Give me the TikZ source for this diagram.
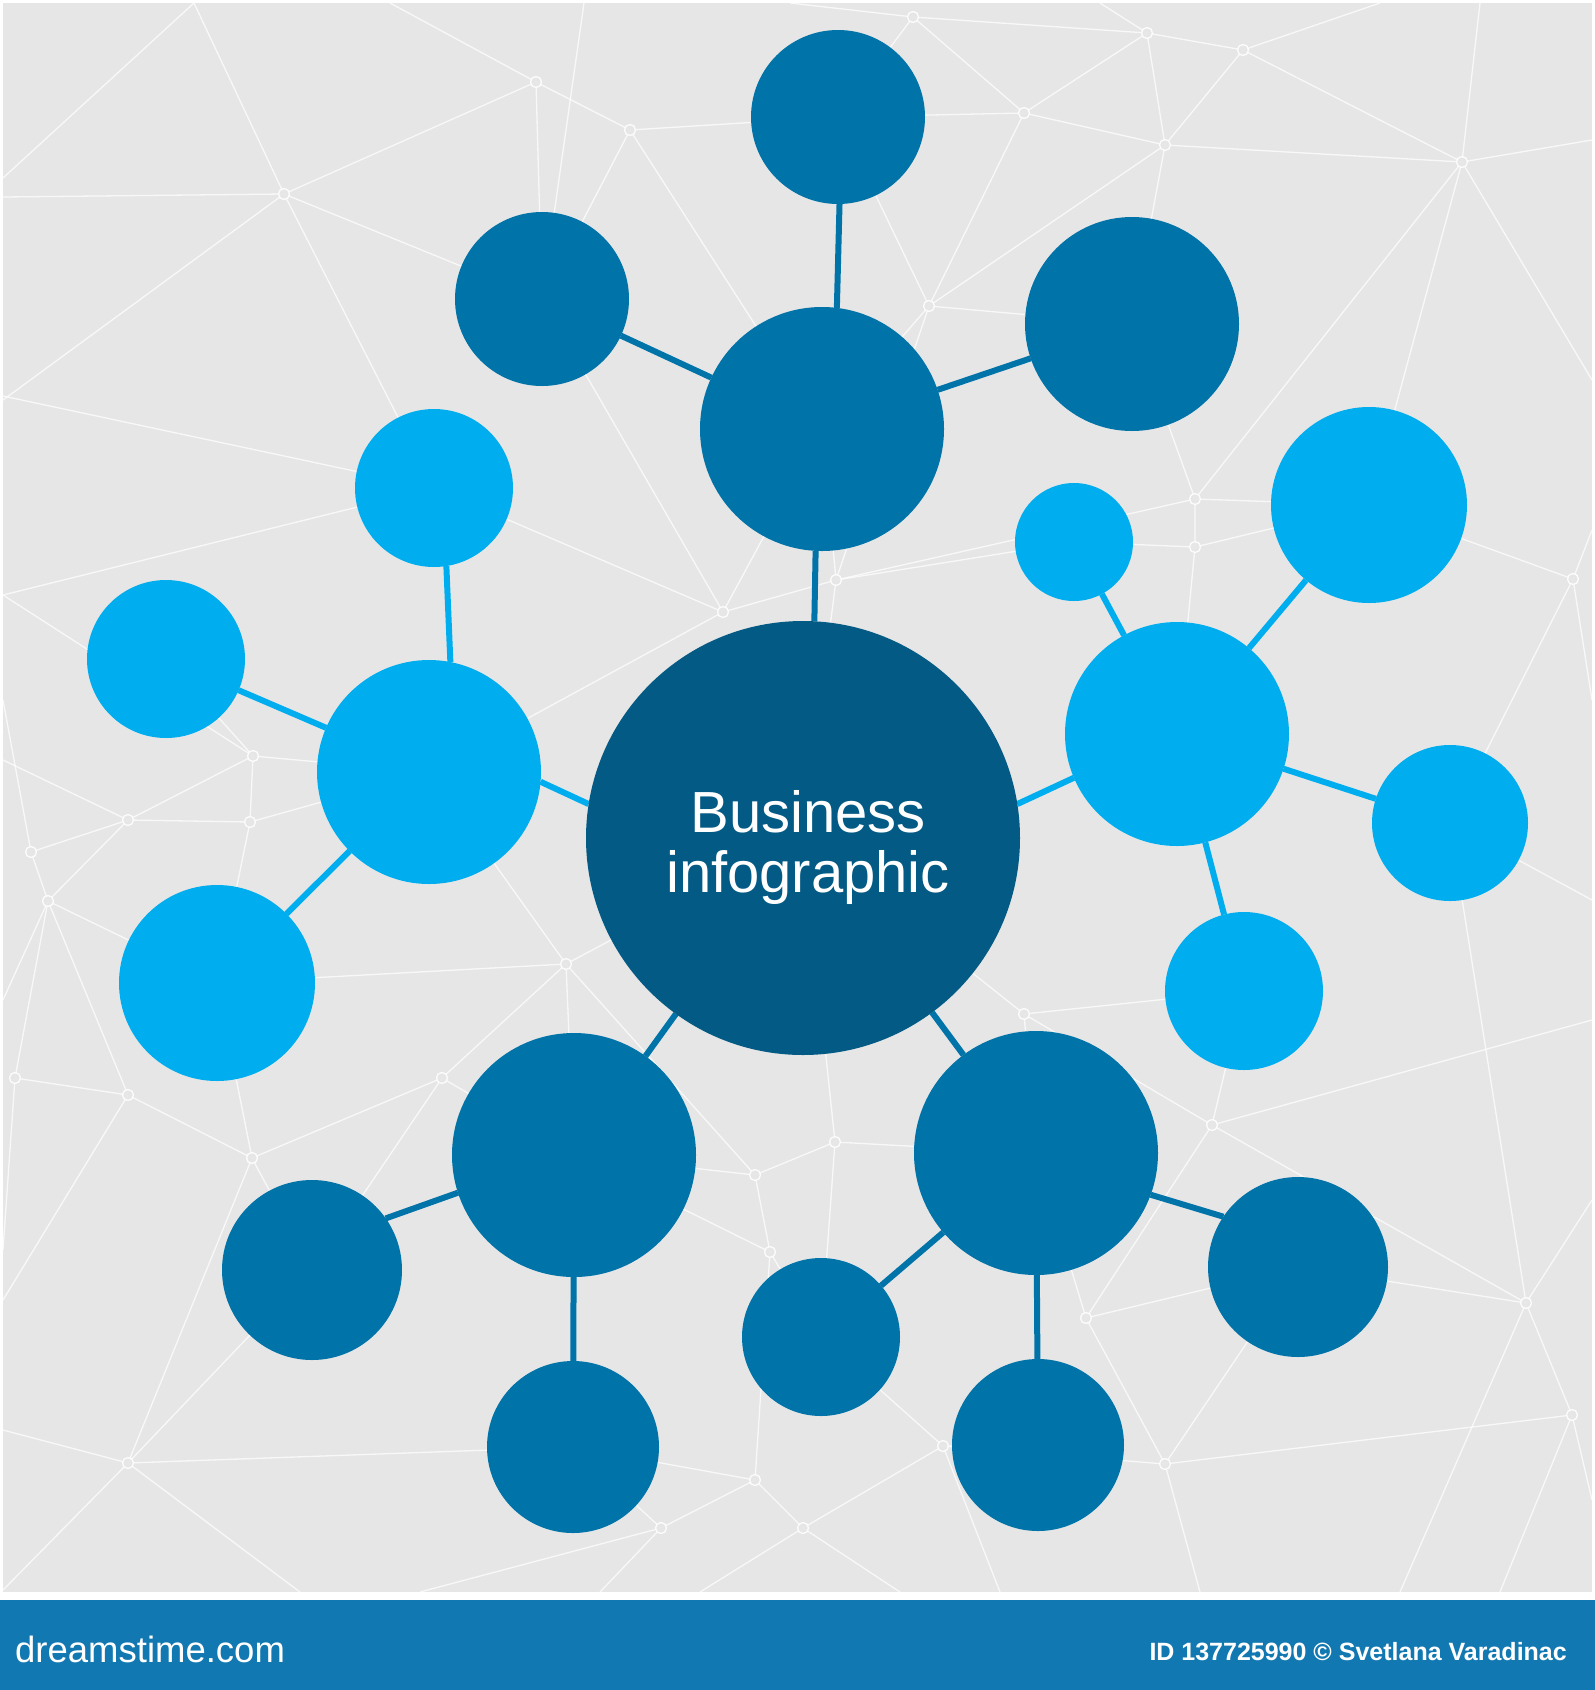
\documentclass[tikz,border=0pt]{standalone}
\usepackage{fontspec}
\setmainfont{Liberation Sans}
\definecolor{bggrey}{HTML}{E6E6E6}
\definecolor{navy}{HTML}{035A84}
\definecolor{darkb}{HTML}{0073A8}
\definecolor{lightb}{HTML}{00AEEF}
\definecolor{bannerc}{HTML}{1278B1}
\pgfdeclarelayer{meshlayer}
\pgfdeclarelayer{linklayer}
\pgfsetlayers{meshlayer,linklayer,main}
\begin{document}
\begin{tikzpicture}[x=1pt,y=-1pt,
  bub/.style={circle,inner sep=0pt,outer sep=0pt,draw=none},
  navybub/.style={bub,fill=navy},
  darkbub/.style={bub,fill=darkb},
  lightbub/.style={bub,fill=lightb},
  darklink/.style={draw=darkb,line width=6pt},
  lightlink/.style={draw=lightb,line width=6pt},
  mesh/.style={draw=white,line width=1.3pt,opacity=0.75},
  meshdot/.style={circle,draw=white,line width=1.3pt,fill=bggrey,inner sep=0pt,minimum size=11pt,opacity=0.9},
  title/.style={text=white,font=\fontsize{58}{60}\selectfont,anchor=base,inner sep=0pt}]
\useasboundingbox (0,0) rectangle (1595,1690);
\begin{pgfonlayer}{meshlayer}
\fill[white] (0,0) rectangle (1595,1690);
\fill[bggrey] (3,3) rectangle (1592,1592);
\fill[bannerc] (0,1600) rectangle (1595,1690);
\end{pgfonlayer}

% bubbles
\node[navybub,minimum size=434pt] (C) at (803,838) {};
\node[darkbub,minimum size=244pt] (T) at (822,429) {};
\node[darkbub,minimum size=174pt] (TT) at (838,117) {};
\node[darkbub,minimum size=174pt] (TL) at (542,299) {};
\node[darkbub,minimum size=214pt] (TR) at (1132,324) {};
\node[lightbub,minimum size=224pt] (R) at (1177,734) {};
\node[lightbub,minimum size=118pt] (RS) at (1074,542) {};
\node[lightbub,minimum size=196pt] (RTR) at (1369,505) {};
\node[lightbub,minimum size=156pt] (RR) at (1450,823) {};
\node[lightbub,minimum size=158pt] (RB) at (1244,991) {};
\node[lightbub,minimum size=224pt] (L) at (429,772) {};
\node[lightbub,minimum size=158pt] (LT) at (434,488) {};
\node[lightbub,minimum size=158pt] (LL) at (166,659) {};
\node[lightbub,minimum size=196pt] (LB) at (217,983) {};
\node[darkbub,minimum size=244pt] (BL) at (574,1155) {};
\node[darkbub,minimum size=180pt] (BLL) at (312,1270) {};
\node[darkbub,minimum size=172pt] (BLB) at (573,1447) {};
\node[darkbub,minimum size=244pt] (BR) at (1036,1153) {};
\node[darkbub,minimum size=158pt] (BRL) at (821,1337) {};
\node[darkbub,minimum size=172pt] (BRB) at (1038,1445) {};
\node[darkbub,minimum size=180pt] (BRR) at (1298,1267) {};

% title
\node[title] (t1) at (808,832) {Business};
\node[title] (t2) at (808,892) {infographic};

% connectors
\begin{pgfonlayer}{linklayer}
\draw[darklink] (C.87) -- (T.267);
\draw[darklink] (T.83) -- (TT.271);
\draw[darklink] (T) -- (TL);
\draw[darklink] (T) -- (TR);
\draw[lightlink] (C.171) -- (L.355);
\draw[lightlink] (L.79) -- (LT.279);
\draw[lightlink] (L) -- (LL);
\draw[lightlink] (L) -- (LB);
\draw[lightlink] (C.9) -- (R.203);
\draw[lightlink] (R) -- (RS);
\draw[lightlink] (R) -- (RTR);
\draw[lightlink] (R) -- (RR);
\draw[lightlink] (R) -- (RB);
\draw[darklink] (C) -- (BL);
\draw[darklink] (BL.198) -- (BLL.35);
\draw[darklink] (BL) -- (BLB);
\draw[darklink] (C) -- (BR);
\draw[darklink] (BR.340) -- (BRR.146);
\draw[darklink] (BR) -- (BRL);
\draw[darklink] (BR) -- (BRB);
\end{pgfonlayer}

% background mesh
\begin{pgfonlayer}{meshlayer}
\coordinate (mA) at (284,194);
\coordinate (mB) at (536,82);
\coordinate (mCm) at (630,130);
\coordinate (mD) at (253,756);
\coordinate (mE) at (128,820);
\coordinate (mE2) at (250,822);
\coordinate (mF) at (723,612);
\coordinate (mG) at (913,17);
\coordinate (mH) at (1147,33);
\coordinate (mI) at (1243,50);
\coordinate (mJ) at (1024,113);
\coordinate (mK) at (1165,145);
\coordinate (mL) at (1462,162);
\coordinate (mM) at (929,306);
\coordinate (mN) at (1195,499);
\coordinate (mO) at (1195,547);
\coordinate (mP) at (1573,579);
\coordinate (mQ) at (836,580);
\coordinate (mR) at (48,901);
\coordinate (mS) at (15,1078);
\coordinate (mT) at (128,1095);
\coordinate (mU) at (252,1158);
\coordinate (mV) at (442,1078);
\coordinate (mW) at (566,964);
\coordinate (mX) at (128,1463);
\coordinate (mY) at (755,1175);
\coordinate (mZ) at (770,1252);
\coordinate (mAA) at (755,1480);
\coordinate (mAB) at (1024,1014);
\coordinate (mAC) at (835,1142);
\coordinate (mAD) at (1212,1125);
\coordinate (mAE) at (1086,1318);
\coordinate (mAF) at (943,1446);
\coordinate (mAG) at (1165,1464);
\coordinate (mAH) at (1526,1303);
\coordinate (mAI) at (1572,1415);
\coordinate (mAJ) at (803,1528);
\coordinate (mAK) at (661,1528);
\coordinate (mR0) at (31,852);
\draw[mesh] (3,197) -- (mA) -- (194,3);
\draw[mesh] (mA) -- (mB);
\draw[mesh] (mA) -- (3,400);
\draw[mesh] (mA) -- (LT.center);
\draw[mesh] (mA) -- (TL.center);
\draw[mesh] (194,3) -- (3,178);
\draw[mesh] (390,3) -- (mB) -- (mCm) -- (TT.center);
\draw[mesh] (mB) -- (TL.center);
\draw[mesh] (584,3) -- (TL.center);
\draw[mesh] (mCm) -- (T.center);
\draw[mesh] (mCm) -- (TL.center);
\draw[mesh] (3,396) -- (LT.center) -- (3,595);
\draw[mesh] (3,595) -- (mD);
\draw[mesh] (mD) -- (mE) -- (mE2) -- (mD);
\draw[mesh] (mE) -- (mR0) -- (mR) -- (mE);
\draw[mesh] (mE) -- (3,760);
\draw[mesh] (mR0) -- (3,700);
\draw[mesh] (mD) -- (L.center);
\draw[mesh] (mD) -- (LL.center);
\draw[mesh] (mE2) -- (L.center);
\draw[mesh] (mE2) -- (LB.center);
\draw[mesh] (mR) -- (3,1000);
\draw[mesh] (mR) -- (mT) -- (mS) -- (mR);
\draw[mesh] (mR) -- (LB.center);
\draw[mesh] (mS) -- (3,1250);
\draw[mesh] (mT) -- (mU) -- (mX) -- (3,1430);
\draw[mesh] (mT) -- (3,1300);
\draw[mesh] (mU) -- (mV) -- (mW) -- (LB.center);
\draw[mesh] (mU) -- (LB.center);
\draw[mesh] (mV) -- (BL.center);
\draw[mesh] (mV) -- (BLL.center);
\draw[mesh] (mU) -- (BLL.center);
\draw[mesh] (mW) -- (L.center);
\draw[mesh] (mW) -- (BL.center);
\draw[mesh] (mW) -- (C.center);
\draw[mesh] (mX) -- (BLL.center);
\draw[mesh] (mX) -- (3,1590);
\draw[mesh] (mX) -- (300,1592);
\draw[mesh] (mX) -- (BLB.center);
\draw[mesh] (mAK) -- (BLB.center);
\draw[mesh] (mAK) -- (mAA) -- (mZ) -- (mY) -- (BL.center);
\draw[mesh] (mAK) -- (600,1592);
\draw[mesh] (mAK) -- (420,1592);
\draw[mesh] (mAA) -- (mAJ);
\draw[mesh] (mAA) -- (BLB.center);
\draw[mesh] (mZ) -- (BRL.center);
\draw[mesh] (mY) -- (mAC) -- (BR.center);
\draw[mesh] (mY) -- (mW);
\draw[mesh] (mAC) -- (C.center);
\draw[mesh] (mAC) -- (BRL.center);
\draw[mesh] (mZ) -- (BL.center);
\draw[mesh] (mAJ) -- (700,1592);
\draw[mesh] (mAJ) -- (900,1592);
\draw[mesh] (mAJ) -- (mAF) -- (BRB.center);
\draw[mesh] (mAF) -- (mAG) -- (mAE) -- (mAD) -- (mAH) -- (mAI) -- (1592,1500);
\draw[mesh] (mAF) -- (BRL.center);
\draw[mesh] (mAF) -- (1000,1592);
\draw[mesh] (mAG) -- (1200,1592);
\draw[mesh] (mAG) -- (BRR.center);
\draw[mesh] (mAE) -- (BR.center);
\draw[mesh] (mAE) -- (BRR.center);
\draw[mesh] (mAD) -- (RB.center);
\draw[mesh] (mAD) -- (mAB) -- (RB.center);
\draw[mesh] (mAB) -- (BR.center);
\draw[mesh] (mAB) -- (C.center);
\draw[mesh] (mAH) -- (1592,1200);
\draw[mesh] (mAH) -- (BRR.center);
\draw[mesh] (mAH) -- (1400,1592);
\draw[mesh] (mAI) -- (1500,1592);
\draw[mesh] (mAI) -- (mAG);
\draw[mesh] (mAH) -- (RR.center);
\draw[mesh] (1592,900) -- (RR.center);
\draw[mesh] (mAD) -- (1592,1020);
\draw[mesh] (mP) -- (1592,530);
\draw[mesh] (mP) -- (RR.center);
\draw[mesh] (mP) -- (RTR.center);
\draw[mesh] (mP) -- (1592,700);
\draw[mesh] (mL) -- (1592,140);
\draw[mesh] (mL) -- (1592,380);
\draw[mesh] (mL) -- (mI) -- (mH) -- (mG) -- (790,3);
\draw[mesh] (mL) -- (mK) -- (mI);
\draw[mesh] (mL) -- (RTR.center);
\draw[mesh] (mL) -- (1480,3);
\draw[mesh] (mL) -- (mN);
\draw[mesh] (mI) -- (1380,3);
\draw[mesh] (mH) -- (mJ) -- (mG);
\draw[mesh] (mH) -- (mK) -- (mJ);
\draw[mesh] (mH) -- (1100,3);
\draw[mesh] (mG) -- (TT.center);
\draw[mesh] (mJ) -- (mM) -- (mK);
\draw[mesh] (mJ) -- (TT.center);
\draw[mesh] (mM) -- (T.center);
\draw[mesh] (mM) -- (TR.center);
\draw[mesh] (mM) -- (TT.center);
\draw[mesh] (mK) -- (TR.center);
\draw[mesh] (mN) -- (mO) -- (RS.center);
\draw[mesh] (mN) -- (RTR.center);
\draw[mesh] (mN) -- (TR.center);
\draw[mesh] (mO) -- (R.center);
\draw[mesh] (mO) -- (RTR.center);
\draw[mesh] (mQ) -- (RS.center);
\draw[mesh] (mQ) -- (T.center);
\draw[mesh] (mQ) -- (C.center);
\draw[mesh] (mQ) -- (mF) -- (T.center);
\draw[mesh] (mF) -- (TL.center);
\draw[mesh] (mF) -- (LT.center);
\draw[mesh] (mF) -- (L.center);
\draw[mesh] (mQ) -- (mM);
\draw[mesh] (mQ) -- (mN);
\foreach \p in {mA,mB,mCm,mD,mE,mE2,mF,mG,mH,mI,mJ,mK,mL,mM,mN,mO,mP,mQ,mR,mS,mT,mU,mV,mW,mX,mY,mZ,mAA,mAB,mAC,mAD,mAE,mAF,mAG,mAH,mAI,mAJ,mAK,mR0}
  \node[meshdot] at (\p) {};
\end{pgfonlayer}

% banner texts
\node[text=white,font=\fontsize{36.5}{40}\selectfont,anchor=base west,inner sep=0pt] (wm) at (15,1662) {dreamstime.com};
\node[text=white,font=\bfseries\fontsize{25}{30}\selectfont,anchor=base east,inner sep=0pt] (idt) at (1567,1660) {ID 137725990 © Svetlana Varadinac};
\end{tikzpicture}
\end{document}
